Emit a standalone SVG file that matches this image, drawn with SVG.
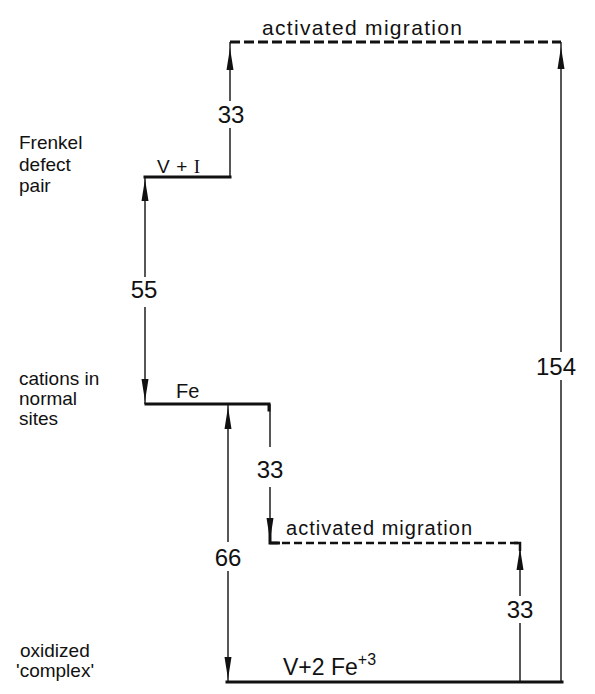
<svg xmlns="http://www.w3.org/2000/svg" xmlns:xlink="http://www.w3.org/1999/xlink" width="595" height="694" viewBox="0 0 595 694">
<style>
  text { font-family: "Liberation Sans", Arial, sans-serif; fill: #111; }
  .lbl { font-size: 19px; }
  .num { font-size: 24px; text-anchor: middle; }
  .lvl { fill: none; stroke: #111; stroke-width: 3; stroke-linecap: square; }
  .dash { fill: none; stroke: #111; stroke-width: 3; stroke-dasharray: 10 4; }
  .con { fill: none; stroke: #111; stroke-width: 1.4; }
  .ah { fill: #111; }
</style>
<defs>
  <path id="ahUp" d="M0,0 L-3.5,22 L3.5,22 Z"/>
  <path id="ahDn" d="M0,0 L-3.5,-22 L3.5,-22 Z"/>
</defs>
<rect width="595" height="694" fill="#fff"/>

<g id="side-labels">
  <text class="lbl" x="19" y="149">Frenkel</text>
  <text class="lbl" x="19" y="171">defect</text>
  <text class="lbl" x="19" y="192">pair</text>
  <text class="lbl" x="19" y="385">cations in</text>
  <text class="lbl" x="19" y="405">normal</text>
  <text class="lbl" x="19" y="425">sites</text>
  <text class="lbl" x="20" y="657">oxidized</text>
  <text class="lbl" x="16" y="677">'complex'</text>
</g>

<g id="level-top-activated">
  <path class="dash" d="M230,42 H561"/>
  <text class="lbl" x="262" y="35" style="font-size:21px" textLength="200" lengthAdjust="spacing">activated  migration</text>
</g>

<g id="level-VI">
  <path class="lvl" d="M145,177 H230"/>
  <text class="lbl" x="157" y="173" textLength="43" lengthAdjust="spacing">V + <tspan style="font-family:'Liberation Serif',serif">I</tspan></text>
</g>

<g id="level-Fe">
  <path class="lvl" d="M146,404 H269 V410"/>
  <text class="lbl" x="176" y="398" style="font-size:20px">Fe</text>
</g>

<g id="level-lower-activated">
  <path class="dash" d="M270,543 H520" style="stroke-width:2.5;stroke-dasharray:8 4"/>
  <path class="lvl" d="M270,520 V543 H280" style="stroke-linecap:butt"/>
  <path class="lvl" d="M514,543 H520 V551" style="stroke-linecap:butt;stroke-width:2.5"/>
  <text class="lbl" x="286" y="535" style="font-size:20px" textLength="186" lengthAdjust="spacing">activated migration</text>
</g>

<g id="level-complex">
  <path class="lvl" d="M227,682 H562"/>
  <text class="lbl" x="283" y="675" style="font-size:23px">V+2 Fe<tspan dy="-10" style="font-size:16px">+3</tspan></text>
</g>

<g id="connectors">
  <!-- 55 -->
  <path class="con" d="M145,177 V277 M145,307 V404"/>
  <use xlink:href="#ahUp" class="ah" x="145" y="179"/>
  <use xlink:href="#ahDn" class="ah" x="145" y="401"/>
  <text class="num" x="144" y="298">55</text>
  <!-- 33 top -->
  <path class="con" d="M230,177 V128 M230,101 V42"/>
  <use xlink:href="#ahUp" class="ah" x="230" y="48"/>
  <text class="num" x="231" y="123">33</text>
  <!-- 154 -->
  <path class="con" d="M561,682 V380 M561,352 V42"/>
  <use xlink:href="#ahUp" class="ah" x="561" y="47"/>
  <text class="num" x="556" y="375">154</text>
  <!-- 66 -->
  <path class="con" d="M228,404 V542 M228,571 V682"/>
  <use xlink:href="#ahUp" class="ah" x="228" y="407"/>
  <use xlink:href="#ahDn" class="ah" x="228" y="679"/>
  <text class="num" x="228" y="566">66</text>
  <!-- 33 middle -->
  <path class="con" d="M270,404 V447 M270,487 V543"/>
  <use xlink:href="#ahDn" class="ah" x="270" y="540"/>
  <text class="num" x="270" y="478">33</text>
  <!-- 33 lower right -->
  <path class="con" d="M520,682 V623 M520,596 V543"/>
  <use xlink:href="#ahUp" class="ah" x="520" y="548"/>
  <text class="num" x="520" y="618">33</text>
</g>
</svg>
